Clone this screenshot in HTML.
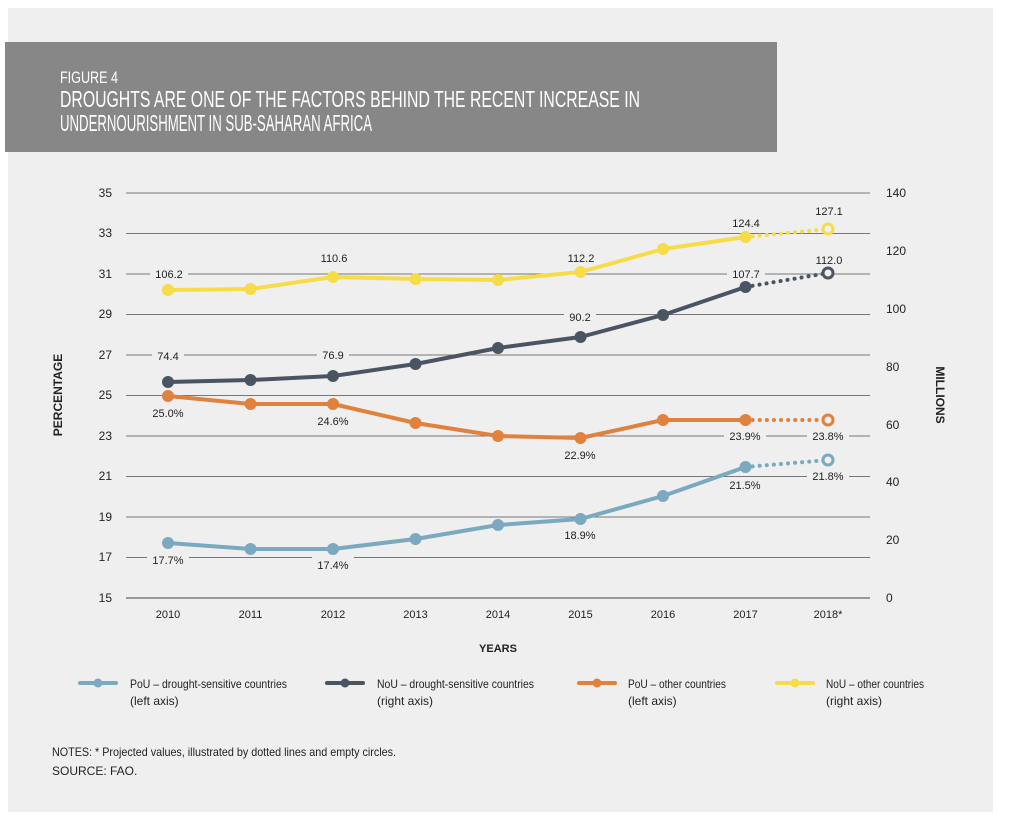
<!DOCTYPE html>
<html><head><meta charset="utf-8"><style>
body{margin:0;background:#fff;width:1024px;height:829px;overflow:hidden}
svg{display:block}
text{font-family:"Liberation Sans",sans-serif;fill:#222}
</style></head><body>
<svg width="1024" height="829" viewBox="0 0 1024 829">
<rect x="8" y="8" width="985" height="804" fill="#efefef"/>
<rect x="5" y="42" width="772" height="110" fill="#878787"/>
<text x="60" y="83" font-size="17" style="fill:#fff" textLength="58" lengthAdjust="spacingAndGlyphs">FIGURE 4</text>
<text x="60" y="107" font-size="23" style="fill:#fff" textLength="580" lengthAdjust="spacingAndGlyphs">DROUGHTS ARE ONE OF THE FACTORS BEHIND THE RECENT INCREASE IN</text>
<text x="60" y="131" font-size="23" style="fill:#fff" textLength="312" lengthAdjust="spacingAndGlyphs">UNDERNOURISHMENT IN SUB-SAHARAN AFRICA</text>
<g stroke="#777" stroke-width="1">
<line x1="126" y1="193" x2="870" y2="193"/><line x1="126" y1="233.5" x2="870" y2="233.5"/>
<line x1="126" y1="274" x2="870" y2="274"/><line x1="126" y1="314.5" x2="870" y2="314.5"/>
<line x1="126" y1="355" x2="870" y2="355"/><line x1="126" y1="395.5" x2="870" y2="395.5"/>
<line x1="126" y1="436" x2="870" y2="436"/><line x1="126" y1="476.5" x2="870" y2="476.5"/>
<line x1="126" y1="517" x2="870" y2="517"/><line x1="126" y1="557.5" x2="870" y2="557.5"/>
<line x1="126" y1="598" x2="870" y2="598" stroke="#444"/>
</g>
<g font-size="12" text-anchor="end">
<text x="112" y="197">35</text><text x="112" y="237">33</text><text x="112" y="278">31</text><text x="112" y="318">29</text><text x="112" y="359">27</text><text x="112" y="399">25</text><text x="112" y="440">23</text><text x="112" y="480">21</text><text x="112" y="521">19</text><text x="112" y="561">17</text><text x="112" y="602">15</text>
</g>
<g font-size="12">
<text x="886" y="197">140</text><text x="886" y="255">120</text><text x="886" y="313">100</text><text x="886" y="371">80</text><text x="886" y="429">60</text><text x="886" y="486">40</text><text x="886" y="544">20</text><text x="886" y="602">0</text>
</g>
<g font-size="11" text-anchor="middle">
<text x="168" y="618">2010</text><text x="250.5" y="618">2011</text><text x="333" y="618">2012</text><text x="415.5" y="618">2013</text><text x="498" y="618">2014</text><text x="580.5" y="618">2015</text><text x="663" y="618">2016</text><text x="745.5" y="618">2017</text><text x="828" y="618">2018*</text>
<text x="498" y="652" font-weight="bold">YEARS</text>
</g>
<text transform="translate(62,395) rotate(-90)" font-size="12" font-weight="bold" text-anchor="middle">PERCENTAGE</text>
<text transform="translate(936,395) rotate(90)" font-size="12" font-weight="bold" text-anchor="middle">MILLIONS</text>

<g fill="#efefef">
<rect x="150" y="266" width="38" height="16"/><rect x="315" y="250" width="38" height="16"/><rect x="562" y="250" width="38" height="16"/><rect x="727" y="215" width="38" height="16"/><rect x="810" y="203" width="38" height="16"/>
<rect x="152" y="348" width="32" height="16"/><rect x="317" y="347" width="32" height="16"/><rect x="564" y="309" width="32" height="16"/><rect x="727" y="266" width="38" height="16"/><rect x="810" y="252" width="38" height="16"/>
<rect x="147" y="405" width="42" height="16"/><rect x="312" y="413" width="42" height="16"/><rect x="559" y="447" width="42" height="16"/><rect x="724" y="428" width="42" height="16"/><rect x="807" y="428" width="42" height="16"/>
<rect x="147" y="552" width="42" height="16"/><rect x="312" y="557" width="42" height="16"/><rect x="559" y="527" width="42" height="16"/><rect x="724" y="477" width="42" height="16"/><rect x="807" y="468" width="42" height="16"/>
</g>

<g fill="none" stroke-width="4" stroke-linejoin="round">
<polyline stroke="#f7dc4a" points="168,290 250.5,289 333,277 415.5,279 498,280 580.5,272 663,249 745.5,237"/>
<polyline stroke="#4a5563" points="168,382 250.5,380 333,376 415.5,364 498,348 580.5,337 663,315 745.5,287"/>
<polyline stroke="#e0823e" points="168,396 250.5,404 333,404 415.5,423 498,436 580.5,438 663,420 745.5,420"/>
<polyline stroke="#7aa9c0" points="168,543 250.5,549 333,549 415.5,539 498,525 580.5,519 663,496 745.5,467"/>
</g>
<g fill="none" stroke-width="4" stroke-dasharray="0.1 7" stroke-linecap="round">
<line stroke="#f7dc4a" x1="745.5" y1="237" x2="828" y2="229"/>
<line stroke="#4a5563" x1="745.5" y1="287" x2="828" y2="273"/>
<line stroke="#e0823e" x1="745.5" y1="420" x2="828" y2="420"/>
<line stroke="#7aa9c0" x1="745.5" y1="467" x2="828" y2="460"/>
</g>
<g fill="#f7dc4a"><circle cx="168" cy="290" r="6"/><circle cx="250.5" cy="289" r="6"/><circle cx="333" cy="277" r="6"/><circle cx="415.5" cy="279" r="6"/><circle cx="498" cy="280" r="6"/><circle cx="580.5" cy="272" r="6"/><circle cx="663" cy="249" r="6"/><circle cx="745.5" cy="237" r="6"/></g>
<g fill="#4a5563"><circle cx="168" cy="382" r="6"/><circle cx="250.5" cy="380" r="6"/><circle cx="333" cy="376" r="6"/><circle cx="415.5" cy="364" r="6"/><circle cx="498" cy="348" r="6"/><circle cx="580.5" cy="337" r="6"/><circle cx="663" cy="315" r="6"/><circle cx="745.5" cy="287" r="6"/></g>
<g fill="#e0823e"><circle cx="168" cy="396" r="6"/><circle cx="250.5" cy="404" r="6"/><circle cx="333" cy="404" r="6"/><circle cx="415.5" cy="423" r="6"/><circle cx="498" cy="436" r="6"/><circle cx="580.5" cy="438" r="6"/><circle cx="663" cy="420" r="6"/><circle cx="745.5" cy="420" r="6"/></g>
<g fill="#7aa9c0"><circle cx="168" cy="543" r="6"/><circle cx="250.5" cy="549" r="6"/><circle cx="333" cy="549" r="6"/><circle cx="415.5" cy="539" r="6"/><circle cx="498" cy="525" r="6"/><circle cx="580.5" cy="519" r="6"/><circle cx="663" cy="496" r="6"/><circle cx="745.5" cy="467" r="6"/></g>
<g fill="#efefef" stroke-width="3">
<circle cx="828" cy="229" r="5" stroke="#f7dc4a"/><circle cx="828" cy="273" r="5" stroke="#4a5563"/><circle cx="828" cy="420" r="5" stroke="#e0823e"/><circle cx="828" cy="460" r="5" stroke="#7aa9c0"/>
</g>
<g font-size="11" text-anchor="middle">
<text x="169" y="278">106.2</text><text x="334" y="262">110.6</text><text x="581" y="262">112.2</text><text x="746" y="227">124.4</text><text x="829" y="215">127.1</text>
<text x="168" y="360">74.4</text><text x="333" y="359">76.9</text><text x="580" y="321">90.2</text><text x="746" y="278">107.7</text><text x="829" y="264">112.0</text>
<text x="168" y="417">25.0%</text><text x="333" y="425">24.6%</text><text x="580" y="459">22.9%</text><text x="745" y="440">23.9%</text><text x="828" y="440">23.8%</text>
<text x="168" y="564">17.7%</text><text x="333" y="569">17.4%</text><text x="580" y="539">18.9%</text><text x="745" y="489">21.5%</text><text x="828" y="480">21.8%</text>
</g>
<g stroke-width="4" stroke-linecap="round">
<line x1="80" y1="683" x2="116" y2="683" stroke="#7aa9c0"/><circle cx="98" cy="683" r="4.5" fill="#7aa9c0"/>
<line x1="327" y1="683" x2="363" y2="683" stroke="#4a5563"/><circle cx="345" cy="683" r="4.5" fill="#4a5563"/>
<line x1="579" y1="683" x2="615" y2="683" stroke="#e0823e"/><circle cx="597" cy="683" r="4.5" fill="#e0823e"/>
<line x1="777" y1="683" x2="813" y2="683" stroke="#f7dc4a"/><circle cx="795" cy="683" r="4.5" fill="#f7dc4a"/>
</g>
<g font-size="12">
<text x="130" y="688" textLength="157" lengthAdjust="spacingAndGlyphs">PoU – drought-sensitive countries</text><text x="130" y="705">(left axis)</text>
<text x="377" y="688" textLength="157" lengthAdjust="spacingAndGlyphs">NoU – drought-sensitive countries</text><text x="377" y="705">(right axis)</text>
<text x="628" y="688" textLength="98" lengthAdjust="spacingAndGlyphs">PoU – other countries</text><text x="628" y="705">(left axis)</text>
<text x="826" y="688" textLength="98" lengthAdjust="spacingAndGlyphs">NoU – other countries</text><text x="826" y="705">(right axis)</text>
<text x="52" y="756" textLength="344" lengthAdjust="spacingAndGlyphs">NOTES: * Projected values, illustrated by dotted lines and empty circles.</text>
<text x="52" y="775">SOURCE: FAO.</text>
</g>
</svg>
</body></html>
